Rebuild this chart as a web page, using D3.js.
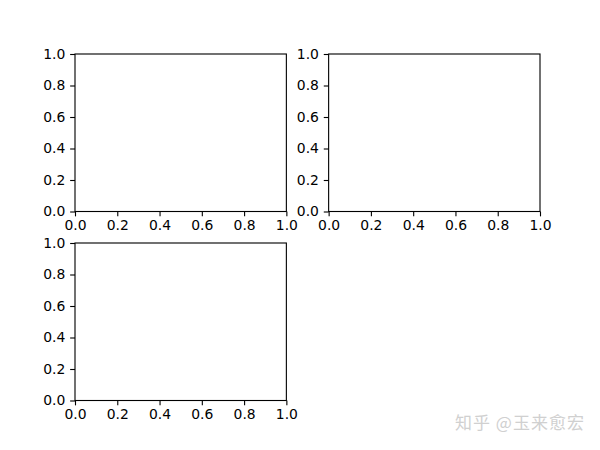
<!DOCTYPE html>
<html><head><meta charset="utf-8">
<script src="https://cdn.jsdelivr.net/npm/d3@7"></script>
<style>body{margin:0;background:#fff}svg{display:block}</style>
</head><body>
<script>
const tickValues = [0, 0.2, 0.4, 0.6, 0.8, 1.0];
const xDomain = [0, 1];
const yDomain = [0, 1];
const panels = [{row:0,col:0},{row:0,col:1},{row:1,col:0}];
const watermark = "知乎 @玉来愈宏";

(function(){
const W = 600, H = 450;
const padL = 0.125*W, padR = 0.9*W, padT = (1-0.88)*H, padB = (1-0.11)*H;
const ws = 0.2, hs = 0.2;
const aw = (padR-padL)/(2+ws), ah = (padB-padT)/(2+hs);

const svg = d3.select("body").append("svg").attr("width", W).attr("height", H);
const fmt = d3.format(".1f");
panels.forEach(p => {
  const x0 = padL + p.col*(aw*(1+ws));
  const y0 = padT + p.row*(ah*(1+hs));
  const x = d3.scaleLinear().domain(xDomain).range([x0, x0+aw]);
  const y = d3.scaleLinear().domain(yDomain).range([y0+ah, y0]);
  const g = svg.append("g");
  const xa = g.append("g").attr("transform", `translate(0,${y0+ah})`)
    .call(d3.axisBottom(x).tickValues(tickValues).tickFormat(fmt).tickSize(4.86).tickPadding(4.2).tickSizeOuter(0));
  const ya = g.append("g").attr("transform", `translate(${x0},0)`)
    .call(d3.axisLeft(y).tickValues(tickValues).tickFormat(fmt).tickSize(4.86).tickPadding(4.86).tickSizeOuter(0));
  [xa, ya].forEach(a => {
    a.select(".domain").remove();
    a.selectAll("line").attr("stroke", "#000").attr("stroke-width", 1.11);
    a.selectAll("text").attr("font-family", "DejaVu Sans").attr("font-size", 13.9).attr("fill", "#000");
  });
  g.append("rect").attr("x", x0).attr("y", y0).attr("width", aw).attr("height", ah)
    .attr("fill", "none").attr("stroke", "#000").attr("stroke-width", 1.11);
});
svg.append("text").attr("x", 455).attr("y", 429).attr("text-anchor", "start")
  .attr("font-family", "Noto Sans CJK SC").attr("font-size", 17).attr("letter-spacing", 1)
  .attr("fill", "#d0d0d0")
  .text(watermark);
})();
</script>
</body></html>
